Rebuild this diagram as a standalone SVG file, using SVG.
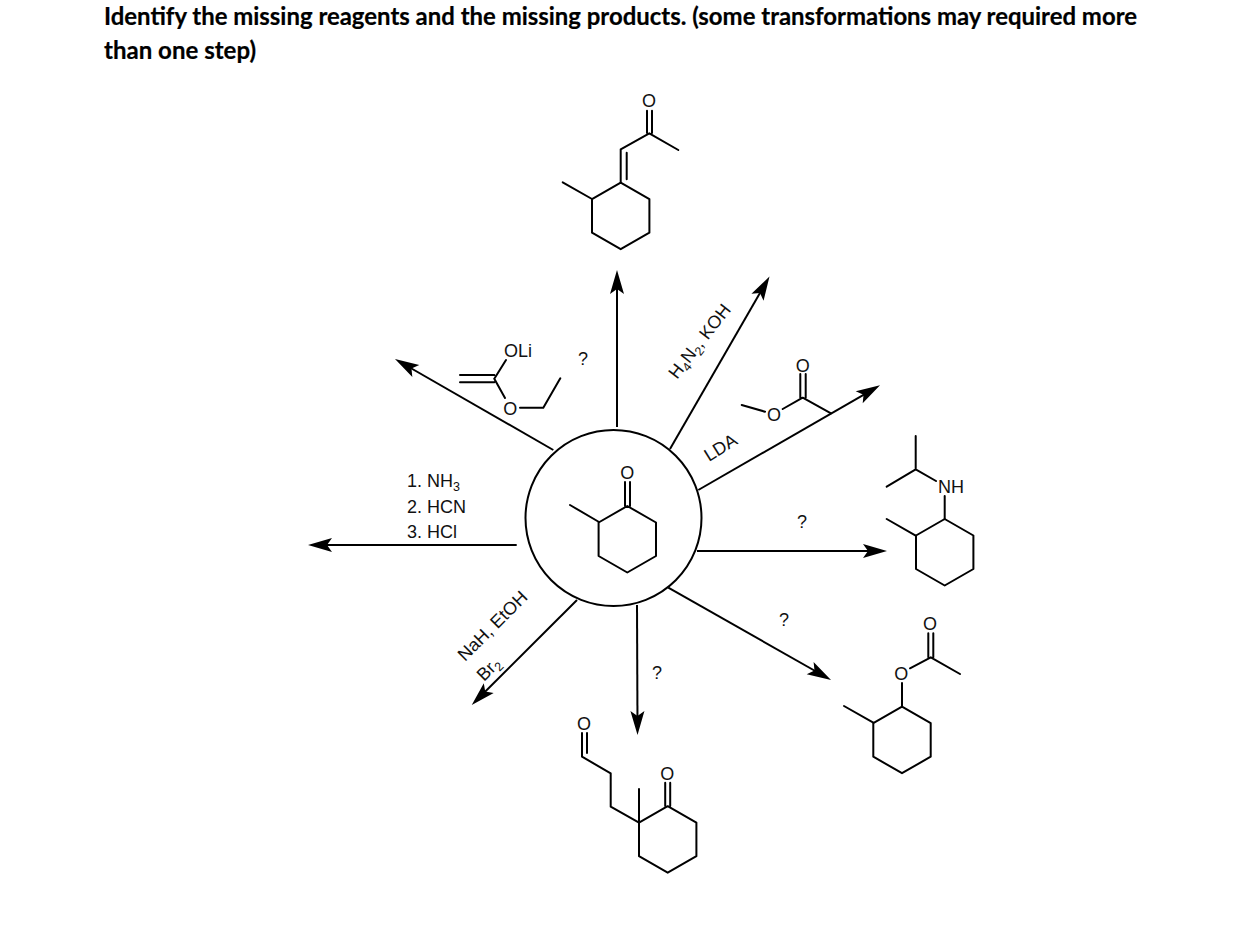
<svg xmlns="http://www.w3.org/2000/svg" width="1240" height="942" viewBox="0 0 1240 942">
<style>
.b{fill:none;stroke:#000;stroke-width:2;stroke-linecap:round;stroke-linejoin:round}
.a{fill:none;stroke:#000;stroke-width:2;marker-end:url(#head)}
.t{font-family:"Liberation Sans",Arial,sans-serif;font-size:18px;fill:#111}
.c{text-anchor:middle}
.s{font-size:12.5px}
.h{font-family:Lato,"Open Sans",sans-serif;font-weight:700;font-size:24px;fill:#000;stroke:#000;stroke-width:.2}
</style>
<defs>
<marker id="head" markerUnits="userSpaceOnUse" markerWidth="30" markerHeight="20" refX="18" refY="10" orient="auto" overflow="visible">
<path d="M24,10 L0,3 L5,10 L0,17 Z" fill="#000"/>
</marker>
<path id="ring" class="b" d="M0,0 L28.7,16.5 V50 L0,66.5 L-28.7,50 V16.5 Z"/>
</defs>
<rect width="1240" height="942" fill="#fff"/>
<g id="title">
<text class="h" x="104" y="25" textLength="1033" lengthAdjust="spacingAndGlyphs">Identify the missing reagents and the missing products. (some transformations may required more</text>
<text class="h" x="104" y="59" textLength="152" lengthAdjust="spacingAndGlyphs">than one step)</text>
</g>
<g id="connectors">
<path class="a" d="M553.3,450 L400.2,362"/>
<path class="a" d="M516.7,545 L314,545"/>
<path class="a" d="M617,427 L617,276"/>
<path class="a" d="M670,449 L766.5,281.7"/>
<path class="a" d="M698.3,490 L874.8,388.3"/>
<path class="a" d="M697,551 L881,551"/>
<path class="a" d="M668.3,587.7 L825.8,677"/>
<path class="a" d="M637,605 L637.5,729"/>
<path class="a" d="M577,600 L476,700.8"/>
</g>
<g id="labels">
<text class="t" x="407" y="487">1. NH<tspan class="s" dy="4">3</tspan></text>
<text class="t" x="407" y="512.5">2. HCN</text>
<text class="t" x="407" y="538">3. HCl</text>
<text class="t" x="578" y="365">?</text>
<text class="t" x="797" y="528">?</text>
<text class="t" x="779" y="626">?</text>
<text class="t" x="652" y="679">?</text>
<text class="t" transform="translate(677,380) rotate(-52)">H<tspan class="s" dy="4">4</tspan><tspan dy="-4">N</tspan><tspan class="s" dy="4">2</tspan><tspan dy="-4">, KOH</tspan></text>
<text class="t" transform="translate(709,462) rotate(-32)">LDA</text>
<text class="t" transform="translate(465,662) rotate(-45)">NaH, EtOH</text>
<text class="t" transform="translate(484,682) rotate(-45)">Br<tspan class="s" dy="4">2</tspan></text>
</g>
<g id="node-center">
<circle class="b" cx="613.5" cy="518" r="88"/>
<use href="#ring" x="627.3" y="506"/>
<path class="b" d="M599,522 L570,505 M625,482 V506 M630,482 V506"/>
<text class="t c" x="627.3" y="479">O</text>
</g>
<g id="node-top">
<use href="#ring" x="620.7" y="182.7"/>
<path class="b" d="M592,199 L562.7,182.3 M620.7,182.7 V149.3 L649.3,133.3 L678.3,150 M626.7,179.3 V152.7 M647,133 V110.7 M652,133 V110.7"/>
<text class="t c" x="649" y="107">O</text>
</g>
<g id="node-enolate">
<path class="b" d="M460,375 H494.3 M460,382.3 H494.3 M494.3,378.7 L506,360 M494.3,378.7 L505,398 M520,407.7 H543.3 L560.3,378.3"/>
<text class="t" x="504" y="356.7">OLi</text>
<text class="t c" x="510.3" y="414.5">O</text>
</g>
<g id="node-ester">
<path class="b" d="M741.7,405 L765,411.7 M782.7,409 L802.7,397.7 L831,413.3 M800.3,397.7 V374 M805.7,397.7 V374"/>
<text class="t c" x="774" y="420.5">O</text>
<text class="t c" x="802.7" y="371.5">O</text>
</g>
<g id="node-amine">
<use href="#ring" x="944.7" y="519"/>
<path class="b" d="M915.7,535.7 L886.7,519 M944.7,496 V519 M936,481 L915.7,469.3 V436 M915.7,469.3 L886.7,486.7"/>
<text class="t" x="938" y="493.3">NH</text>
</g>
<g id="node-acetate">
<use href="#ring" x="902" y="706.7"/>
<path class="b" d="M873.3,722.7 L844,706 M902,683 V706.7 M910,668.3 L930.8,657.3 L960,674 M928.3,657.3 V633.3 M933.3,657.3 V633.3"/>
<text class="t c" x="901.3" y="679.7">O</text>
<text class="t c" x="930" y="630.3">O</text>
</g>
<g id="node-bottom">
<use href="#ring" x="667.7" y="806.2"/>
<path class="b" d="M639,822.7 V789 M639,822.7 L610.7,806.7 V773.3 L582,756.7 V733 M587,753 V733 M665.2,806 V782.7 M670.2,806 V782.7"/>
<text class="t c" x="667.3" y="780.3">O</text>
<text class="t c" x="584" y="730.3">O</text>
</g>
</svg>
